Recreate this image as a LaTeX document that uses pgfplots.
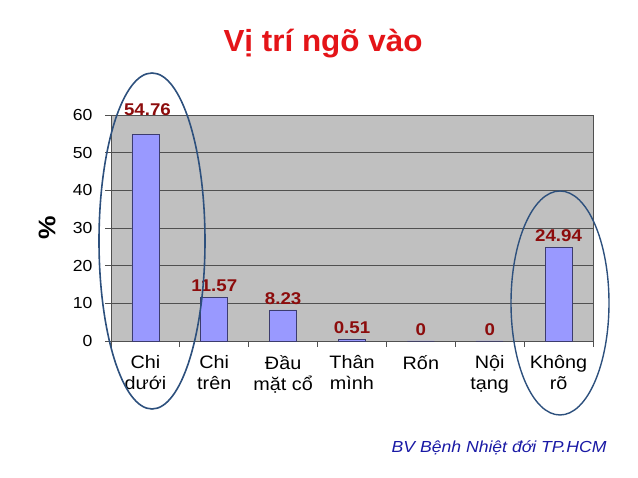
\documentclass[border=0pt]{standalone}
\usepackage{fontspec}
\setmainfont[FakeStretch=1.1]{Liberation Sans}
\newfontfamily\titlefont[FakeStretch=1.03]{Liberation Sans}
\usepackage{pgfplots}
\pgfplotsset{compat=1.18}
\definecolor{titlered}{RGB}{228,20,24}
\definecolor{valred}{RGB}{140,12,12}
\definecolor{barblue}{RGB}{153,153,255}
\definecolor{baredge}{RGB}{60,60,110}
\definecolor{bggray}{RGB}{192,192,192}
\definecolor{gridcol}{RGB}{80,80,80}
\definecolor{ellcol}{RGB}{45,80,125}
\definecolor{footblue}{RGB}{25,25,165}
\begin{document}
\begin{tikzpicture}[x=1pt,y=1pt]
\path[use as bounding box] (0,0) rectangle (638,478);
\node[font=\titlefont\fontsize{30.5}{36}\selectfont\bfseries, text=titlered, anchor=base] at (323,426) {Vị trí ngõ vào};
\begin{axis}[
  at={(111pt,137pt)}, anchor=south west,
  width=482pt, height=226pt, scale only axis,
  xmin=-0.5, xmax=6.5, ymin=0, ymax=60,
  clip=false,
  axis background/.style={fill=bggray},
  axis line style={gridcol, line width=0.8pt},
  ytick={0,10,...,60},
  ymajorgrids, grid style={gridcol, line width=0.8pt},
  ytick pos=left, xtick pos=bottom, tick align=outside,
  major tick length=6pt, minor tick length=6pt,
  tick style={gridcol, line width=0.8pt},
  xtick={0,...,6},
  minor xtick={-0.5,0.5,...,6.5},
  major x tick style={draw=none},
  xticklabels={{Chi\\dưới},{Chi\\trên},{Đầu\\mặt cổ},{Thân\\mình},{Rốn},{Nội\\tạng},{Không\\rõ}},
  xticklabel style={font=\fontsize{18}{21}\selectfont, align=center, anchor=north, yshift=-5pt},
  yticklabel style={font=\fontsize{16}{18}\selectfont, xshift=-9pt},
  /pgf/number format/assume math mode=true,
]
\addplot[ybar, bar width=27pt, bar shift=0pt, fill=barblue, draw=baredge, line width=0.6pt,
  point meta=explicit symbolic,
  nodes near coords,
  nodes near coords style={font=\fontsize{17}{20}\selectfont\bfseries, text=valred, anchor=south, yshift=2pt}]
  coordinates {(0,54.76)[] (1,11.57)[11.57] (2,8.23)[8.23] (3,0.51)[0.51] (4,0)[0] (5,0)[0] (6,24.94)[24.94]};
\addplot[draw=none, mark=none, point meta=explicit symbolic, nodes near coords,
  nodes near coords style={font=\fontsize{17}{20}\selectfont\bfseries, text=valred, anchor=south, yshift=16pt, xshift=2pt}]
  coordinates {(0,54.76)[54.76]};
\end{axis}
\node[font=\fontsize{24}{28}\selectfont\bfseries, rotate=90] at (47,250) {\%};
\draw[ellcol, line width=1.6pt] (152,237) ellipse [x radius=53, y radius=168];
\draw[ellcol, line width=1.4pt] (560,175) ellipse [x radius=49, y radius=112];
\node[anchor=base east, font=\fontsize{16}{19}\selectfont\itshape, text=footblue] at (610,25) {BV Bệnh Nhiệt đới TP.HCM};
\end{tikzpicture}
\end{document}
